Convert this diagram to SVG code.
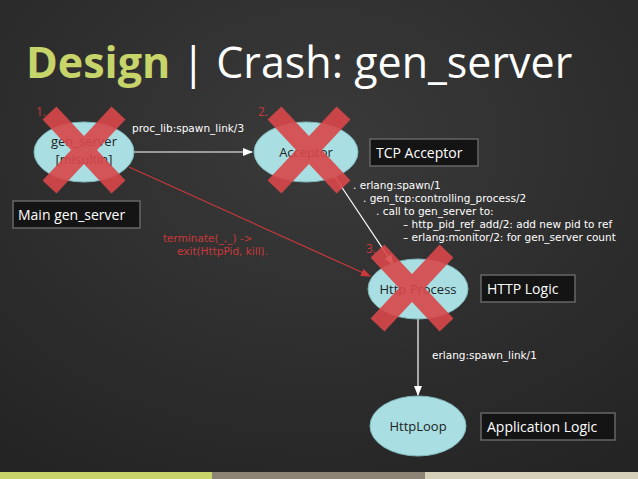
<svg xmlns="http://www.w3.org/2000/svg" width="638" height="479" viewBox="0 0 638 479">
<defs>
<radialGradient id="bg" cx="50%" cy="30%" r="80%"><stop offset="0" stop-color="#3a3a3a"/><stop offset="1" stop-color="#242424"/></radialGradient>
<marker id="aw" markerWidth="10" markerHeight="8" refX="9" refY="4" orient="auto" markerUnits="userSpaceOnUse"><path d="M0,0 L10,4 L0,8 z" fill="#fff"/></marker>
<marker id="ar" markerWidth="10" markerHeight="8" refX="9" refY="4" orient="auto" markerUnits="userSpaceOnUse"><path d="M0,0 L10,4 L0,8 z" fill="#c9393b"/></marker>
<g id="x"><line x1="-28" y1="-30" x2="28" y2="30"/><line x1="28" y1="-30" x2="-28" y2="30"/></g>
</defs>
<style>
text{font-family:"Open Sans","DejaVu Sans",sans-serif}
.ell{fill:#a9dfe2;stroke:#7fb6ba;stroke-width:1}
.nt{font-size:13px;fill:#222;text-anchor:middle}
.box{fill:#141414;stroke:#666;stroke-width:1.5}
.bt{font-size:14px;fill:#fff}
.wt{font-size:10.5px;fill:#fff;font-family:"DejaVu Sans",sans-serif}
.rt{font-size:10.5px;fill:#c9393b;font-family:"DejaVu Sans",sans-serif}
.num{font-size:12px;fill:#c9393b}
.cross{stroke:#d9474a;stroke-width:19;opacity:0.9;stroke-linecap:square}
</style>
<rect width="638" height="479" fill="url(#bg)"/>
<text x="26" y="78" font-size="43" font-weight="bold" fill="#c7d46a">Design<tspan font-weight="normal" fill="#fff"> | Crash: gen_server</tspan></text>
<g id="connectors">
<line x1="134" y1="152" x2="252" y2="152" stroke="#fff" stroke-width="1.2" marker-end="url(#aw)"/>
<line x1="129" y1="167" x2="370" y2="276" stroke="#c9393b" stroke-width="1.2" marker-end="url(#ar)"/>
<line x1="335" y1="177" x2="393" y2="264" stroke="#fff" stroke-width="1.2" marker-end="url(#aw)"/>
<line x1="418" y1="319" x2="418" y2="395" stroke="#fff" stroke-width="1.2" marker-end="url(#aw)"/>
<text class="wt" x="132" y="132">proc_lib:spawn_link/3</text>
<text class="rt" x="163" y="242">terminate(_,_) -&gt;</text>
<text class="rt" x="177" y="255">exit(HttpPid, kill).</text>
<text class="wt" x="432" y="359">erlang:spawn_link/1</text>
<text class="wt" x="353" y="189">. erlang:spawn/1</text>
<text class="wt" x="363" y="202">. gen_tcp:controlling_process/2</text>
<text class="wt" x="376" y="215">. call to gen_server to:</text>
<text class="wt" x="403" y="228">– http_pid_ref_add/2: add new pid to ref</text>
<text class="wt" x="403" y="241">– erlang:monitor/2: for gen_server count</text>
</g>
<g id="n1"><ellipse class="ell" cx="84" cy="152" rx="50" ry="30"/><text class="nt" x="84" y="146">gen_server</text><text class="nt" x="84" y="164">[misultin]</text><text class="num" x="36" y="116">1.</text><use href="#x" x="84" y="150" class="cross"/></g>
<g id="n2"><ellipse class="ell" cx="306" cy="152" rx="52" ry="30"/><text class="nt" x="306" y="157">Acceptor</text><text class="num" x="258" y="116">2.</text><use href="#x" x="309" y="150" class="cross"/></g>
<g id="n3"><ellipse class="ell" cx="418" cy="289" rx="50" ry="30"/><text class="nt" x="418" y="294">Http Process</text><text class="num" x="366" y="253">3.</text><use href="#x" x="412" y="288" class="cross"/></g>
<g id="n4"><ellipse class="ell" cx="418" cy="426" rx="48" ry="30"/><text class="nt" x="418" y="431">HttpLoop</text></g>
<g id="l1"><rect class="box" x="13" y="201" width="127" height="27"/><text class="bt" x="18" y="220">Main gen_server</text></g>
<g id="l2"><rect class="box" x="370" y="139" width="108" height="27"/><text class="bt" x="376" y="158">TCP Acceptor</text></g>
<g id="l3"><rect class="box" x="481" y="275" width="94" height="27"/><text class="bt" x="487" y="294">HTTP Logic</text></g>
<g id="l4"><rect class="box" x="481" y="413" width="134" height="27"/><text class="bt" x="487" y="432">Application Logic</text></g>
<rect x="0" y="472" width="212" height="7" fill="#c7d46a"/>
<rect x="212" y="472" width="213" height="7" fill="#8d8374"/>
<rect x="425" y="472" width="213" height="7" fill="#d6d0b8"/>
</svg>
